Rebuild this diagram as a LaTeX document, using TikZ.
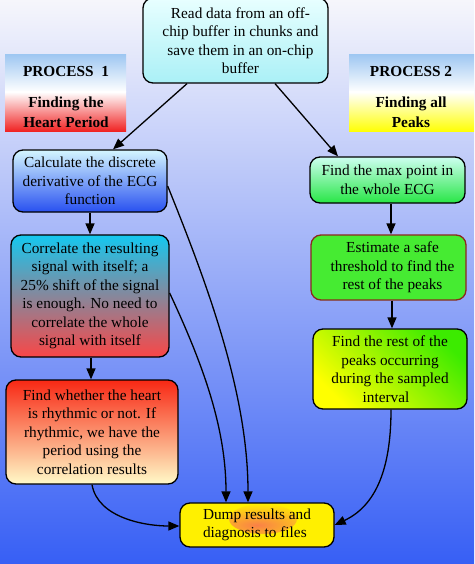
\documentclass[tikz,border=0pt]{standalone}
\usepackage{fontspec}
\setmainfont{Liberation Serif}
\usetikzlibrary{arrows.meta,calc}
\definecolor{bgT}{RGB}{246,246,251}
\definecolor{bgM}{RGB}{172,182,247}
\definecolor{bgB}{RGB}{55,95,245}
\definecolor{procB}{RGB}{160,200,242}
\definecolor{procR}{RGB}{240,30,30}
\definecolor{procY}{RGB}{255,255,0}
\definecolor{topA}{RGB}{232,255,255}
\definecolor{topB}{RGB}{170,240,246}
\definecolor{calcA}{RGB}{212,246,255}
\definecolor{calcM}{RGB}{110,170,250}
\definecolor{calcB}{RGB}{40,80,240}
\definecolor{corrA}{RGB}{20,200,240}
\definecolor{corrM}{RGB}{165,150,185}
\definecolor{corrB}{RGB}{250,70,70}
\definecolor{findA}{RGB}{248,40,20}
\definecolor{findM}{RGB}{250,170,110}
\definecolor{findB}{RGB}{255,250,200}
\definecolor{maxA}{RGB}{205,255,240}
\definecolor{maxB}{RGB}{40,230,70}
\definecolor{estG}{RGB}{70,235,50}
\definecolor{estM}{RGB}{255,255,175}
\definecolor{estD}{RGB}{140,40,30}
\definecolor{restY}{RGB}{255,255,0}
\definecolor{restG}{RGB}{60,235,0}
\definecolor{dumpC}{RGB}{248,100,90}
\definecolor{dumpY}{RGB}{255,240,0}
\tikzset{
  box/.style={draw=black, line width=1.3pt, rounded corners=10pt, align=center,
    inner sep=2pt, text=black, font=\fontsize{15.3}{18.5}\selectfont},
  arr/.style={line width=1.3pt, -{Triangle[length=11pt,width=9pt]}},
  ptext/.style={font=\fontsize{15.3}{19.5}\selectfont\bfseries, align=center, text=black},
}
\begin{document}
\begin{tikzpicture}[x=1pt,y=-1pt]
\useasboundingbox (0,0) rectangle (474,564);
\clip (0,0) rectangle (474,564);
\fill[top color=bgT, middle color=bgM, bottom color=bgB] (0,0) rectangle (474,564);

% process labels
\fill[top color=procB, bottom color=white] (5,55) rectangle (126,92);
\fill[top color=white, bottom color=procR] (5,92) rectangle (126,132);
\node[ptext] (p1a) at (66,72) {PROCESS~~1};
\node[ptext] (p1b) at (66,112.5) {Finding the\\Heart Period};
\fill[top color=procB, bottom color=white] (349,55) rectangle (474,92);
\fill[top color=white, bottom color=procY] (349,92) rectangle (474,132);
\node[ptext] (p2a) at (411,72) {PROCESS 2};
\node[ptext] (p2b) at (411,112.5) {Finding all\\Peaks};

% boxes
\node[box, top color=topA, bottom color=topB, minimum width=185pt, minimum height=85pt] (top) at (235.5,40.5)
  {\hspace*{10pt}Read data from an off-\\\hspace*{10pt}chip buffer in chunks and\\\hspace*{10pt}save them in an on-chip\\\hspace*{10pt}buffer};
\node[box, top color=calcA, middle color=calcM, bottom color=calcB, minimum width=154pt, minimum height=62pt] (calc) at (90,181)
  {Calculate the discrete\\derivative of the ECG\\function};
\node[box, top color=corrA, middle color=corrM, bottom color=corrB, minimum width=158pt, minimum height=122pt] (corr) at (90,296)
  {Correlate the resulting\\signal with itself; a\\25\% shift of the signal\\is enough. No need to\\correlate the whole\\signal with itself};
\node[box, top color=findA, middle color=findM, bottom color=findB, minimum width=172pt, minimum height=104pt] (find) at (92,432)
  {Find whether the heart\\is rhythmic or not. If\\rhythmic, we have the\\period using the\\correlation results};
\node[box, fill=dumpY, minimum width=154pt, minimum height=44pt, align=left,
  path picture={\shade[inner color=dumpC!80!dumpY, outer color=dumpY]
     ($(path picture bounding box.center)+(6pt,6pt)$) ellipse [x radius=34pt, y radius=15pt];}] (dump) at (257,525)
  {Dump results and\\diagnosis to files};
\node[box, top color=maxA, bottom color=maxB, minimum width=155pt, minimum height=46pt] (max) at (387.5,180)
  {Find the max point in\\the whole ECG};
\node[box, draw=estD, top color=estG, middle color=estM, bottom color=estG, minimum width=155pt, minimum height=65pt] (est) at (388.5,267.5)
  {\hspace*{8pt}Estimate a safe\\\hspace*{8pt}threshold to find the\\\hspace*{8pt}rest of the peaks};
\node[box, top color=restG, bottom color=restY, shading angle=-45, minimum width=154pt, minimum height=80pt] (rest) at (390,369)
  {Find the rest of the\\peaks occurring\\during the sampled\\interval\hspace*{8pt}};

% connectors
\draw[arr] ([xshift=-48.5pt]top.south) -- ([xshift=23pt]calc.north);
\draw[arr] ([xshift=39.5pt]top.south) -- ([xshift=-49.5pt]max.north);
\draw[arr] (calc.south) -- (calc.south |- corr.north);
\draw[arr] ([xshift=1pt]corr.south) -- ([xshift=1pt]corr.south |- find.north);
\draw[arr] ([xshift=3.5pt]max.south) -- ([xshift=3.5pt]max.south |- est.north);
\draw[arr] ([xshift=3.5pt]est.south) -- ([xshift=3.5pt]est.south |- rest.north);
\draw[arr] ([yshift=-5pt]calc.east) to[out=-68,in=90,looseness=0.85] ([xshift=-9pt]dump.north);
\draw[arr] ([yshift=3pt]corr.east) to[out=-65,in=90,looseness=0.9] ([xshift=-31pt]dump.north);
\draw[arr] (find.south) to[out=-80,in=180,looseness=0.9] ([yshift=-1pt]dump.west);
\draw[arr] ([xshift=1pt]rest.south) to[out=-90,in=25,looseness=1] (dump.east);
\end{tikzpicture}
\end{document}
